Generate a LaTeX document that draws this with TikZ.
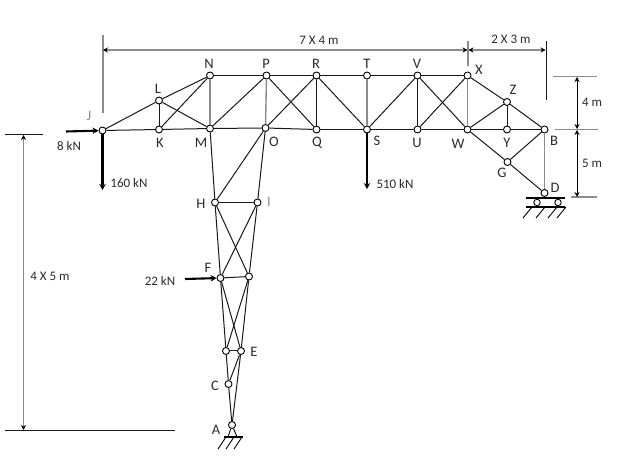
\documentclass[tikz,border=0pt]{standalone}
\usepackage{fontspec}
\setmainfont{Carlito}
\usetikzlibrary{arrows.meta}
\definecolor{lbl}{HTML}{2A2A2A}
\definecolor{gr}{HTML}{8C8C8C}
\tikzset{
 x=1pt,y=-1pt,
 joint/.style={circle,draw=black,fill=white,line width=.9pt,minimum size=7pt,inner sep=0pt},
 member/.style={draw=black!90,line width=1pt},
 gmember/.style={draw=gr,line width=1.4pt},
 lab/.style={inner sep=0pt,text=lbl,font=\fontsize{14.5}{14.5}\selectfont},
 val/.style={inner sep=0pt,text=lbl,font=\fontsize{13}{13}\selectfont},
 load/.style={draw=black,line width=2.1pt,-{Stealth[length=6pt,width=6.5pt]}},
 dim/.style={draw=gr,line width=1.4pt,{Stealth[length=5pt,width=5pt,black]}-{Stealth[length=5pt,width=5pt,black]}},
 bdim/.style={draw=black,line width=1pt,{Stealth[length=5pt,width=5pt]}-{Stealth[length=5pt,width=5pt]}},
 ext/.style={draw=gr,line width=1.4pt},
 bext/.style={draw=black!90,line width=1pt},
 ground/.style={draw=black,line width=.9pt},
 bar/.style={draw=black,line width=1.5pt},
}
\begin{document}
\begin{tikzpicture}
\useasboundingbox (0,0) rectangle (632,470);
\fill[white] (0,0) rectangle (632,470);
% joints
\foreach \n/\x/\y in {J/102.5/130.5,K/159/129.5,L/159/100.5,M/210/128.5,N/210/75.5,P/266.5/75.5,O/265.5/128,Q/316.5/129.5,R/316.5/75.5,S/367/129.5,T/367/75.5,U/417.5/129.5,V/417.5/75.5,W/467.5/129.5,X/467.5/75.5,Z/507/102,Y/507/129.5,B/544.5/129.5,G/507.5/162,D/544.5/193,H/215/202.5,I/257.5/202.5,F/220.5/278,Fr/249/276.5,El/226/351,E/241/351,C/228.5/384,A/232/425}
  \node[joint] (\n) at (\x,\y) {};
% members
\foreach \a/\b in {J/K,K/M,M/O,O/Q,Q/S,S/U,U/W,W/Y,Y/B,J/L,L/N,L/K,K/N,L/M,M/P,N/P,P/R,R/T,T/V,V/X,P/Q,O/R,R/Q,R/S,S/V,V/U,V/W,U/X,X/Z,Z/B,Z/W,Z/Y,W/G,G/B,G/D,M/H,O/H,O/I,H/I,H/F,H/Fr,I/F,I/Fr,F/Fr,F/El,F/E,Fr/El,Fr/E,El/E,El/C,E/C,C/A,E/A}
  \draw[member] (\a) -- (\b);
\foreach \a/\b in {N/M,P/O,T/S,X/W,B/D}
  \draw[gmember] (\a) -- (\b);
% joint labels
\foreach \t/\x/\y in {N/209/64,P/266/64,R/316/64,T/367/64,V/417/64,X/479/70,L/158/89,K/160/143,M/201/143,O/274/142,Q/317/143,S/377/141,U/417/143,W/458/144,Z/513/90,Y/507/143,B/554/141,G/502/173,D/555/188,H/201/204,F/208/268,E/254/352,C/215/386,A/216/430}
  \node[lab] (lab\t) at (\x,\y) {\t};
\node[lab,text=gr] (labJ) at (89,116) {J};
\node[lab,text=gr] (labI) at (269,202) {I};
% values
\node[val] (v1) at (69,146) {8 kN};
\node[val] (v2) at (129,183) {160 kN};
\node[val] (v3) at (395,184) {510 kN};
\node[val] (v4) at (160,281) {22 kN};
\node[val] (v5) at (319,40) {7 X 4 m};
\node[val] (v6) at (511,39) {2 X 3 m};
\node[val] (v7) at (592,102) {4 m};
\node[val] (v8) at (592,163) {5 m};
\node[val] (v9) at (50,276) {4 X 5 m};
% loads
\coordinate (l1) at (66,131.5);
\coordinate (l2) at (102.5,190);
\coordinate (l3) at (367,189);
\coordinate (l4) at (185,279);
\draw[load] (l1) -- (J);
\draw[load] (J) -- (l2);
\draw[load] (S) -- (l3);
\draw[load] (l4) -- (F);
% top dimensions
\coordinate (e1a) at (103,35); \coordinate (e1b) at (103,113);
\coordinate (e2a) at (468,41); \coordinate (e2b) at (468,66);
\coordinate (e3a) at (546,41); \coordinate (e3b) at (546,100);
\draw[ext] (e1a) -- (e1b);
\draw[ext] (e2a) -- (e2b);
\draw[bext] (e3a) -- (e3b);
\coordinate (d1a) at (103,50); \coordinate (d1b) at (467.5,50);
\coordinate (d2a) at (468.5,50); \coordinate (d2b) at (545.5,50);
\draw[dim] (d1a) -- (d1b);
\draw[dim] (d2a) -- (d2b);
% right dimensions
\coordinate (r1a) at (553,76.5); \coordinate (r1b) at (597,76.5);
\coordinate (r2a) at (555,129.5); \coordinate (r2b) at (598,129.5);
\coordinate (r3a) at (571,197); \coordinate (r3b) at (597,197);
\draw[ext] (r1a) -- (r1b);
\draw[ext] (r2a) -- (r2b);
\draw[ext] (r3a) -- (r3b);
\coordinate (r4a) at (577,77); \coordinate (r4b) at (577,129);
\coordinate (r5a) at (577,130); \coordinate (r5b) at (577,197);
\draw[bdim] (r4a) -- (r4b);
\draw[bdim] (r5a) -- (r5b);
% left dimension
\coordinate (s1a) at (5,135); \coordinate (s1b) at (43,135);
\coordinate (s2a) at (5,430); \coordinate (s2b) at (175,430);
\draw[bext] (s1a) -- (s1b);
\draw[bext] (s2a) -- (s2b);
\coordinate (s3a) at (23.5,135); \coordinate (s3b) at (23.5,430);
\draw[dim] (s3a) -- (s3b);
% support A
\draw[ground] (A) -- (228,437);
\draw[ground] (A) -- (237,437);
\draw[bar] (224,437) -- (243,437);
\foreach \x in {226,234,242}
  \draw[ground] (\x,437) -- (\x-8,449);
% support D
\draw[bar] (526,198) -- (565,198);
\draw[bar] (526,207) -- (565,207);
\node[joint,minimum size=6.5pt] (r1) at (537,202.5) {};
\node[joint,minimum size=6.5pt] (r2) at (558,202.5) {};
\foreach \x in {532,545,557,566}
  \draw[ground] (\x,207) -- (\x-9,218);
\end{tikzpicture}
\end{document}
